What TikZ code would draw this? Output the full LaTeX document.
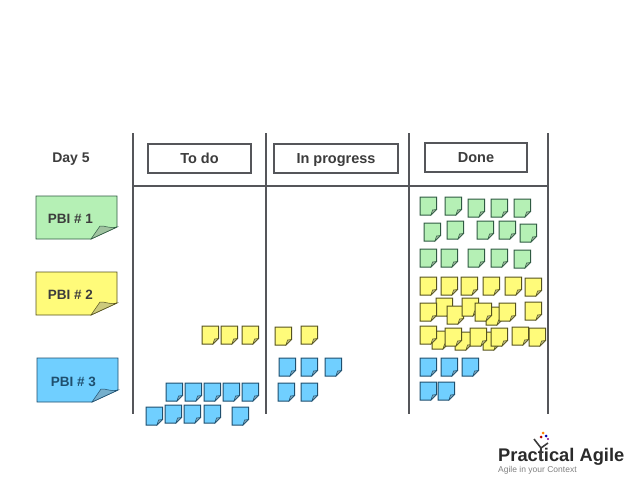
\documentclass[tikz,border=0pt]{standalone}
\usepackage{fontspec}
\setmainfont{Liberation Sans}
\definecolor{noteGreen}{HTML}{B5F0B5}
\definecolor{noteYellow}{HTML}{FFFB7A}
\definecolor{noteBlue}{HTML}{70CFFF}
\definecolor{edgeGreen}{HTML}{2F5A42}
\definecolor{edgeYellow}{HTML}{55521F}
\definecolor{edgeBlue}{HTML}{1F4F6E}
\definecolor{boardLine}{HTML}{55565A}
\definecolor{labelInk}{HTML}{3C3C3C}
\tikzset{
  boardline/.style={boardLine,line width=1.8pt},
  headbox/.style={draw=boardLine,line width=1.4pt,fill=white,font=\fontsize{14.5}{16}\selectfont\bfseries,text=labelInk,inner sep=0pt,text height=10.5pt,text depth=0pt},
  pbilabel/.style={font=\fontsize{13.5}{15}\selectfont\bfseries,inner sep=0pt},
}
% one small note: x, y, fill, edge
\newcommand{\stickynote}[4]{
  \draw[#4,fill=#3,line width=1pt] (#1,#2) -- ++(16.5,0) -- ++(0,12.5) -- ++(-5.5,5.5) -- ++(-11,0) -- cycle;
  \draw[#4,fill=#3!45!gray,line width=0.5pt] (#1+16.5,#2+12.5) -- ++(-4,0.5) -- ++(-1.5,5) -- cycle;
}
% one large note: x, y, width, height, fill, edge
\newcommand{\pbinote}[6]{
  \draw[#6,fill=#5,line width=0.9pt] (#1,#2) -- ++(#3,0) -- ++(0,#4-12) -- ++(-26,12) -- ++(-#3+26,0) -- cycle;
  \draw[#6,fill=#5!60!gray,line width=0.5pt] (#1+#3,#2+#4-12) .. controls (#1+#3-8,#2+#4-10) and (#1+#3-13,#2+#4-14) .. (#1+#3-17,#2+#4-13) -- (#1+#3-26,#2+#4) -- cycle;
}
\begin{document}
\begin{tikzpicture}[x=1pt,y=-1pt]
  \useasboundingbox (0,0) rectangle (638,479);

  % board
  \foreach \x in {133,266,409,548}
    \draw[boardline] (\x,133) -- (\x,414);
  \draw[boardline] (133,186) -- (548,186);

  % headers
  \node[headbox,minimum width=103pt,minimum height=29pt] (todo) at (199.5,158.5) {To do};
  \node[headbox,minimum width=124pt,minimum height=29pt] (inprogress) at (336,158.5) {In progress};
  \node[headbox,minimum width=102pt,minimum height=29pt] (done) at (476,157.5) {Done};
  \node[font=\fontsize{14}{16}\selectfont\bfseries,text=labelInk,inner sep=0pt] (day) at (71,159.5) {Day 5};

  % backlog items
  \pbinote{36}{196}{81}{43}{noteGreen}{edgeGreen}
  \node[pbilabel,text=labelInk] (pbione) at (70.5,219) {PBI \# 1};
  \pbinote{36}{272}{81}{43}{noteYellow}{edgeYellow}
  \node[pbilabel,text=labelInk] (pbitwo) at (70.5,295) {PBI \# 2};
  \pbinote{37}{358}{81}{44}{noteBlue}{edgeBlue}
  \node[pbilabel,text=edgeBlue] (pbithree) at (73.5,381.5) {PBI \# 3};

  % green notes
  \foreach \x/\y in {420/197,445/197,468/199,491/199,514/199,
                     424/223,447/221,477/221,499/221,520/224,
                     420/249,441/249,468/249,491/249,514/250}
    \stickynote{\x}{\y}{noteGreen}{edgeGreen};

  % yellow notes, back to front
  \foreach \x/\y in {202/326,221/326,242/326,275/327,301/326,
                     420/277,441/277,461/277,483/277,505/277,525/278,
                     436/298,420/303,447/306,462/298,486/307,475/303,499/303,525/302,
                     432/331,420/326,455/332,445/328,483/332,470/328,491/328,512/327,529/328}
    \stickynote{\x}{\y}{noteYellow}{edgeYellow};

  % blue notes
  \foreach \x/\y in {279/358,301/358,325/358,278/383,301/383,
                     166/383,185/383,204/383,223/383,242/383,
                     146/407,165/405,184/405,204/405,232/407,
                     420/358,441/358,462/358,420/382,438/382}
    \stickynote{\x}{\y}{noteBlue}{edgeBlue};

  % logo
  \node[font=\fontsize{18.3}{19}\selectfont\bfseries,text=labelInk!70!black,anchor=base west,inner sep=0pt] (brand) at (498,461) {Practical Agile};
  \node[font=\fontsize{8.5}{9}\selectfont,text=gray,anchor=base west,inner sep=0pt] (slogan) at (498,472.5) {Agile in your Context};
  \draw[labelInk,line width=1.6pt] (534,439) -- (541,448) -- (548,443);
  \draw[labelInk,line width=2pt] (541,448) -- (541,460);
  \fill[red!70!black] (541,437) circle (1.5pt);
  \fill[blue!70!black] (546,436) circle (1.5pt);
  \fill[orange] (543,433) circle (1.5pt);
  \fill[violet] (548,439) circle (1.2pt);
\end{tikzpicture}
\end{document}
